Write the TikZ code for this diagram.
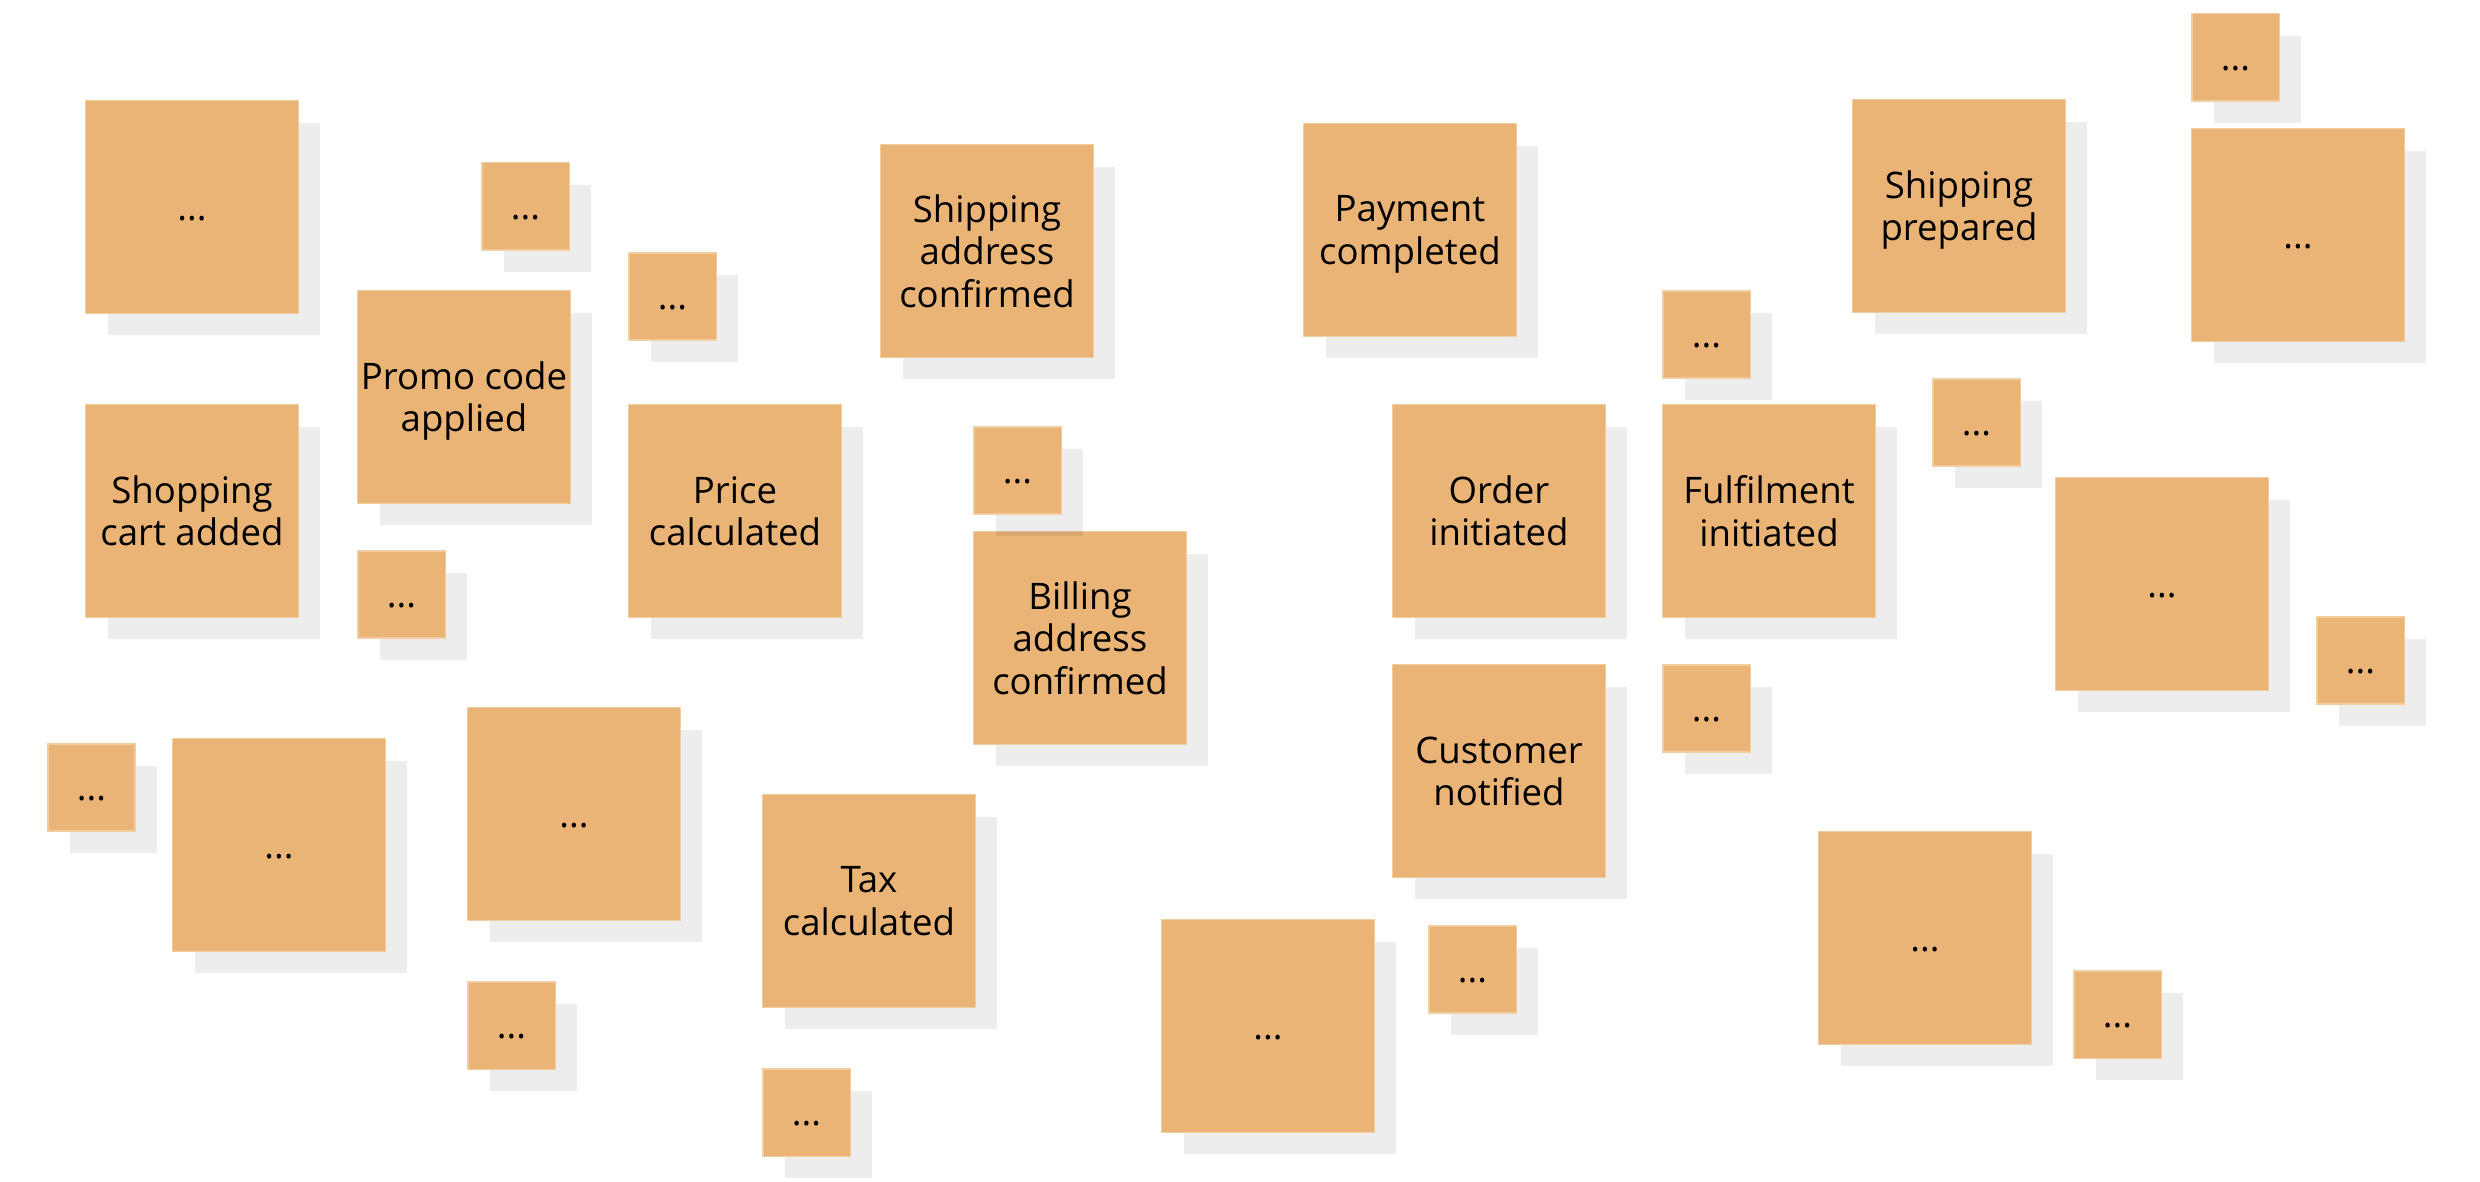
\documentclass[tikz,border=0pt]{standalone}
\usepackage{fontspec}
\setmainfont{Open Sans}
\usetikzlibrary{shadows}
\definecolor{sticky}{HTML}{EBB477}
\definecolor{stickyedge}{HTML}{F2CDA0}
\newcommand{\notestrut}{\rule[-2.2pt]{0pt}{12pt}}
\tikzstyle{note}=[shape=rectangle,fill=sticky,draw=stickyedge,line width=0.3pt,inner sep=0,align=center,font=\fontsize{10.4}{12}\selectfont,execute at begin node=\notestrut,execute at end node=\notestrut,copy shadow={shadow xshift=0.22cm,shadow yshift=-0.22cm,fill=black,fill opacity=0.07,draw=none}]
\tikzstyle{bignote}=[note,minimum size=2.12cm]
\tikzstyle{smallnote}=[note,minimum size=0.87cm]
\tikzstyle{event}=[bignote,text depth=0pt]

\begin{document}
\begin{tikzpicture}[x=0.01cm,y=-0.01cm]
\useasboundingbox (0,0) rectangle (2480,1182);

% events
\node[event] (promo) at (464,397) {Promo code\\applied};
\node[event] (cart) at (192,511) {Shopping\\cart added};
\node[event] (price) at (735,511) {Price\\calculated};
\node[event] (shipaddr) at (987,251) {Shipping\\address\\confirmed};
\node[event] (billing) at (1080,638) {Billing\\address\\confirmed};
\node[event] (payment) at (1410,230) {Payment\\completed};
\node[event] (order) at (1499,511) {Order\\initiated};
\node[event] (customer) at (1499,771) {Customer\\notified};
\node[event] (fulfil) at (1769,511) {Fulfilment\\initiated};
\node[event] (shipprep) at (1959,206) {Shipping\\prepared};
\node[event] (tax) at (869,901) {Tax\\calculated};

% empty notes
\foreach \x/\y [count=\i] in {192/207,2298/235,2162/584,1925/938,1268/1026,574/814,279/845}
	\node[bignote] (more\i) at (\x,\y) {...};
\foreach \x/\y [count=\i] in {525.5/206.5,672.5/296.5,401.5/594.5,1017.5/470.5,91.5/787.5,511.5/1025.5,806.5/1112.5,1472.5/969.5,1706.5/334.5,1706.5/708.5,1976.5/422.5,2235.5/57.5,2360.5/660.5,2117.5/1014.5}
	\node[smallnote] (dots\i) at (\x,\y) {...};
\end{tikzpicture}
\end{document}
